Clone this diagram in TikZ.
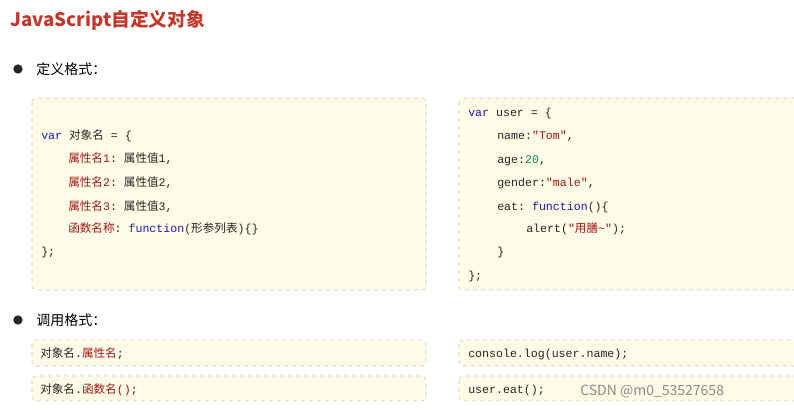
\documentclass[tikz,border=0pt]{standalone}
\usepackage{fontspec}
\setmainfont{Noto Sans CJK SC}
\setmonofont{Liberation Mono}
\newfontfamily\cjk{Noto Sans CJK SC}
\definecolor{kwc}{HTML}{1A1AB0}
\definecolor{rdc}{HTML}{A31515}
\definecolor{grc}{HTML}{098658}
\definecolor{titc}{HTML}{C0392B}
\definecolor{boxf}{HTML}{FEFCE6}
\definecolor{boxd}{HTML}{C8C8C0}
\newcommand{\kwd}[1]{\textcolor{kwc}{#1}}
\newcommand{\rdd}[1]{\textcolor{rdc}{#1}}
\newcommand{\cj}[1]{{\cjk\fontsize{8.7pt}{10pt}\selectfont #1}}
\begin{document}
\begin{tikzpicture}[x=0.75pt,y=-0.75pt,
  codebox/.style={draw=boxd,dashed,fill=boxf,rounded corners=3pt},
  code/.style={anchor=base west,inner sep=0pt,font=\ttfamily\fontsize{8.7pt}{10pt}\selectfont,text=black!85},
  lbl/.style={anchor=west,inner sep=0pt,font=\cjk\fontsize{10.5pt}{12pt}\selectfont},
  dot/.style={circle,fill=black!85,inner sep=0pt,minimum size=7pt}]
\useasboundingbox (0,0) rectangle (794,410);
\node[anchor=west,inner sep=0pt,font=\cjk\bfseries\fontsize{14pt}{16pt}\selectfont,text=titc] (title) at (10,20) {JavaScript自定义对象};
\node[dot] (b1) at (18,69) {};
\node[lbl] (l1) at (36,69) {定义格式：};
\node[dot] (b2) at (18,320) {};
\node[lbl] (l2) at (36,320) {调用格式：};
\draw[codebox] (32,98) rectangle (426,290);
\draw[codebox] (459,98) rectangle (800,290);
\draw[codebox] (32,340) rectangle (426,366);
\draw[codebox] (32,376) rectangle (426,401);
\draw[codebox] (459,340) rectangle (800,366);
\draw[codebox] (459,376) rectangle (800,401);
% left code
\node[code] (a1) at (41,140) {\kwd{var} \cj{对象名} = \{};
\node[code] (a2) at (68,163) {\rdd{\cj{属性名}1}: \cj{属性值}1,};
\node[code] (a3) at (68,186) {\rdd{\cj{属性名}2}: \cj{属性值}2,};
\node[code] (a4) at (68,210) {\rdd{\cj{属性名}3}: \cj{属性值}3,};
\node[code] (a5) at (68,233) {\rdd{\cj{函数名称}}: \kwd{function}(\cj{形参列表})\{\}};
\node[code] (a6) at (41,256) {\};};
% right code
\node[code] (r1) at (468,117) {\kwd{var} user = \{};
\node[code] (r2) at (497,140) {name:\rdd{"Tom"},};
\node[code] (r3) at (497,164) {age:\textcolor{grc}{20},};
\node[code] (r4) at (497,187) {gender:\rdd{"male"},};
\node[code] (r5) at (497,210) {eat: \kwd{function}()\{};
\node[code] (r6) at (526,233) {alert(\rdd{"\cj{用膳}\textasciitilde"});};
\node[code] (r7) at (497,256) {\}};
\node[code] (r8) at (468,279) {\};};
% call format
\node[code] (c1) at (40,357) {\cj{对象名}.\rdd{\cj{属性名}};};
\node[code] (c2) at (40,393) {\cj{对象名}.\rdd{\cj{函数名}()};};
\node[code] (c3) at (468,357) {console.log(user.name);};
\node[code] (c4) at (468,393) {user.eat();};
\node[anchor=west,inner sep=0pt,font=\fontfamily{Noto Sans}\cjk\fontsize{10.5pt}{12pt}\selectfont,text=black!45] (wm) at (580,391) {CSDN @m0\_53527658};
\end{tikzpicture}
\end{document}
